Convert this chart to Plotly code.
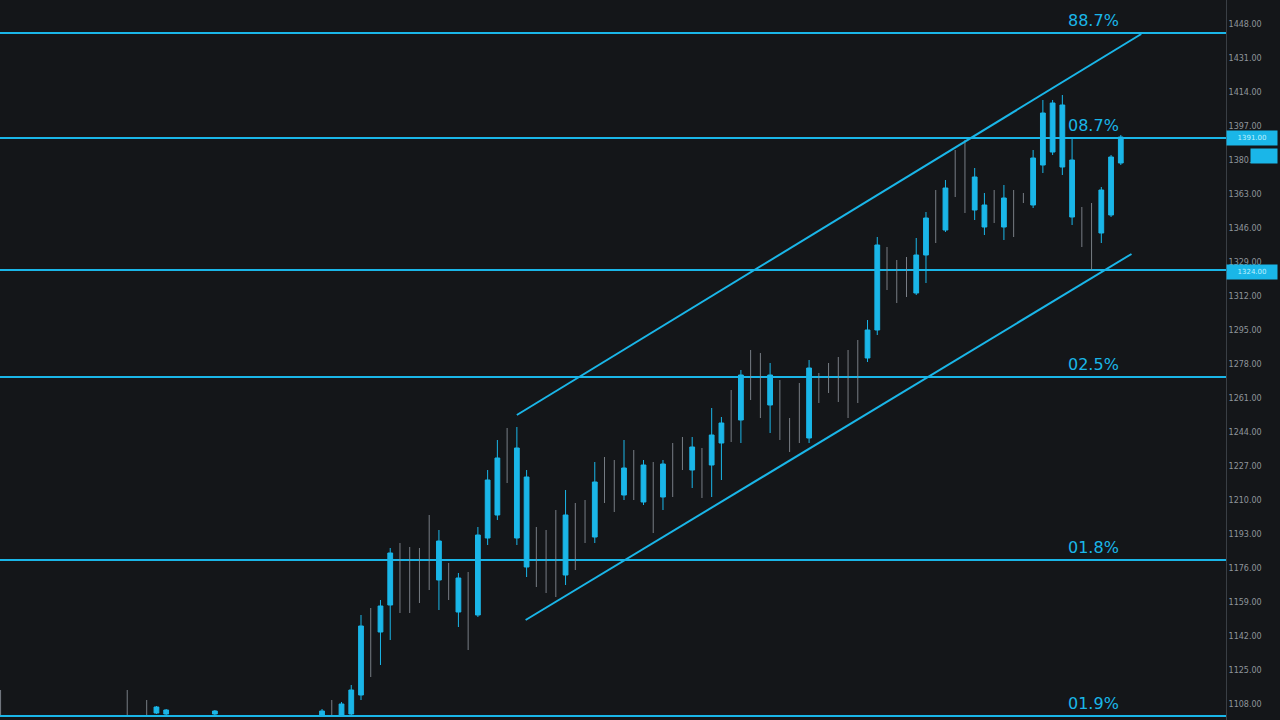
import plotly.graph_objects as go

# ---------------- data (prices) ----------------
# bright cyan candles: bar index, open, high, low, close
cyan_idx = [16, 17, 22, 33, 35, 36, 37, 39, 40, 45, 47, 49, 50, 51, 53, 54, 58, 61, 64, 66,
            68, 71, 73, 74, 76, 79, 83, 89, 90, 94, 95, 97, 100, 101, 103, 106, 107, 108, 109,
            110, 113, 114, 115]
cyan_open = [1103.5, 1103, 1103, 1102.5, 1102.5, 1103, 1112.5, 1157, 1157.5, 1170, 1171, 1152.5,
             1191, 1202.5, 1236, 1221.5, 1172.5, 1191.5, 1212.5, 1227.5, 1211.5, 1225, 1227.5,
             1238.5, 1250, 1272.5, 1241, 1281, 1295, 1332.5, 1332.5, 1345, 1371.5, 1357.5, 1346.5,
             1357.5, 1377.5, 1408.5, 1376.5, 1380, 1343.5, 1352.5, 1391.5]
cyan_high = [1107, 1105.5, 1105, 1105.5, 1109, 1117.5, 1152.5, 1160, 1186, 1195, 1173.5, 1196.5,
             1225, 1240, 1246.5, 1225, 1215, 1229, 1240, 1230, 1230, 1241.5, 1256, 1251.5, 1275,
             1278.5, 1280, 1300, 1341.5, 1341, 1354, 1370, 1376, 1363.5, 1367.5, 1385, 1410, 1410,
             1412.5, 1391, 1366.5, 1382.5, 1392.5]
cyan_low = [1103, 1102.5, 1102.5, 1102, 1102, 1102.5, 1110, 1127.5, 1140, 1155, 1146.5, 1151.5,
            1187.5, 1200, 1187.5, 1171.5, 1167.5, 1188.5, 1210, 1207.5, 1205, 1216, 1211.5, 1220,
            1238.5, 1243.5, 1238.5, 1279, 1292.5, 1312.5, 1318.5, 1344, 1350, 1342.5, 1340, 1356,
            1373.5, 1382.5, 1372.5, 1347.5, 1338.5, 1351.5, 1377.5]
cyan_close = [1106.5, 1105, 1104.5, 1104.5, 1108, 1115, 1147, 1144, 1183.5, 1189.5, 1154, 1192.5,
              1220, 1231, 1191, 1176.5, 1202.5, 1219, 1226, 1209, 1228, 1236.5, 1242.5, 1248.5,
              1272.5, 1257.5, 1276, 1295, 1337.5, 1313.5, 1351, 1366, 1355, 1346.5, 1361, 1381,
              1403.5, 1384, 1407.5, 1351.5, 1365, 1381.5, 1378.5]

# faint grey doji candles: bar index, high, low, open/close level
gray_idx = [0, 13, 15, 34, 38, 41, 42, 43, 44, 46, 48, 52, 55, 56, 57, 59, 60, 62, 63, 65, 67, 69,
            70, 72, 75, 77, 78, 80, 81, 82, 84, 85, 86, 87, 88, 91, 92, 93, 96, 98, 99, 102, 104,
            105, 111, 112]
gray_high = [1115, 1115, 1110, 1110, 1156, 1188.5, 1186.5, 1186, 1202.5, 1178.5, 1174, 1246,
             1196.5, 1195, 1205, 1208.5, 1210, 1231.5, 1230, 1235, 1229, 1238.5, 1241.5, 1236,
             1265, 1285, 1283.5, 1270, 1251, 1268.5, 1273.5, 1278.5, 1281.5, 1285, 1290, 1336.5,
             1330, 1331.5, 1365, 1385, 1390, 1365, 1365, 1363.5, 1356.5, 1358.5]
gray_low = [1102.5, 1102.5, 1102.5, 1102.5, 1121.5, 1153.5, 1153.5, 1158.5, 1165, 1160, 1135,
            1218.5, 1166.5, 1163.5, 1161.5, 1175, 1188.5, 1208.5, 1204, 1210, 1193.5, 1211.5,
            1225, 1211, 1239, 1260, 1251, 1240, 1234, 1238.5, 1258.5, 1263.5, 1259, 1251, 1258.5,
            1315, 1308.5, 1311.5, 1338.5, 1361.5, 1353.5, 1348.5, 1341.5, 1358.5, 1336.5, 1325]
gray_mid = [1104, 1104, 1104, 1104, 1140, 1175, 1172, 1178, 1185, 1170, 1158, 1230, 1180, 1175,
            1178, 1195, 1200, 1222, 1222.5, 1222, 1215, 1226, 1233, 1225, 1250, 1270, 1265, 1255,
            1242, 1255, 1265, 1270, 1272, 1270, 1275, 1325, 1320, 1322, 1350, 1372, 1375, 1358,
            1355, 1361, 1345, 1340]

# horizontal levels and their labels
level_prices = [1443.5, 1391, 1325, 1271.5, 1180, 1102]
level_labels = ["88.7%", "08.7%", "", "02.5%", "01.8%", "01.9%"]

# rising channel (bar index, price) endpoints
channel_upper_x = [53.0, 117.1]
channel_upper_y = [1252.5, 1443]
channel_lower_x = [53.9, 116.1]
channel_lower_y = [1150, 1333]

# price tags on the right scale
tag_prices = [1391, 1382, 1324]
tag_texts = ["1391.00", " ", "1324.00"]

# right-axis ticks
tick_values = [1108 + 17 * k for k in range(21)]
tick_texts = [f"{v:.2f}" for v in tick_values]

# ---------------- styling ----------------
BG = "#141619"
CYAN = "#1ab6e8"
GREY = "#8a9098"

fig = go.Figure()

fig.add_trace(go.Ohlc(
    x=gray_idx, open=gray_mid, high=gray_high, low=gray_low, close=gray_mid,
    tickwidth=0,
    increasing=dict(line=dict(color=GREY, width=1)),
    decreasing=dict(line=dict(color=GREY, width=1)),
    opacity=0.85, hoverinfo="skip", showlegend=False,
))
fig.add_trace(go.Candlestick(
    x=cyan_idx, open=cyan_open, high=cyan_high, low=cyan_low, close=cyan_close,
    increasing=dict(line=dict(color=CYAN, width=1), fillcolor=CYAN),
    decreasing=dict(line=dict(color=CYAN, width=1), fillcolor=CYAN),
    hoverinfo="skip", showlegend=False,
))

shapes = []
for p in level_prices:
    shapes.append(dict(type="line", xref="paper", x0=0, x1=1, yref="y", y0=p, y1=p,
                       line=dict(color=CYAN, width=2), layer="below"))
shapes.append(dict(type="line", xref="x", yref="y",
                   x0=channel_upper_x[0], x1=channel_upper_x[1],
                   y0=channel_upper_y[0], y1=channel_upper_y[1],
                   line=dict(color=CYAN, width=2)))
shapes.append(dict(type="line", xref="x", yref="y",
                   x0=channel_lower_x[0], x1=channel_lower_x[1],
                   y0=channel_lower_y[0], y1=channel_lower_y[1],
                   line=dict(color=CYAN, width=2)))

annotations = []
for p, t in zip(level_prices, level_labels):
    if not t:
        continue
    annotations.append(dict(xref="paper", x=0.892, yref="y", y=p, text=t, showarrow=False,
                            xanchor="center", yanchor="bottom", yshift=1,
                            font=dict(family="DejaVu Sans", size=16, color=CYAN)))
tag_shift = [0, 24, 0]
tag_width = [46, 22, 46]
for p, t, s, w in zip(tag_prices, tag_texts, tag_shift, tag_width):
    annotations.append(dict(xref="paper", x=1, yref="y", y=p, text=t, showarrow=False,
                            xanchor="left", yanchor="middle", xshift=s, width=w, height=10,
                            bgcolor=CYAN, borderpad=2,
                            font=dict(family="DejaVu Sans", size=7, color="#bff1ff")))

fig.update_layout(
    width=1280, height=720,
    margin=dict(l=0, r=54, t=0, b=0),
    paper_bgcolor=BG, plot_bgcolor=BG,
    showlegend=False,
    shapes=shapes, annotations=annotations,
    xaxis=dict(range=[-0.06, 125.8], showgrid=False, zeroline=False, showticklabels=False,
               rangeslider=dict(visible=False), showline=False, fixedrange=True),
    yaxis=dict(range=[1100, 1460], side="right", showgrid=False, zeroline=False,
               tickvals=tick_values, ticktext=tick_texts, ticks="",
               tickfont=dict(family="DejaVu Sans", size=8, color="#8f959b"),
               showline=True, linecolor="#3a3f45", linewidth=1, fixedrange=True),
    hovermode=False,
)

fig.write_html(
    "out.html",
    config=dict(displayModeBar=False),
    post_script="document.body.style.margin='0';document.body.style.background='#141619';",
)
